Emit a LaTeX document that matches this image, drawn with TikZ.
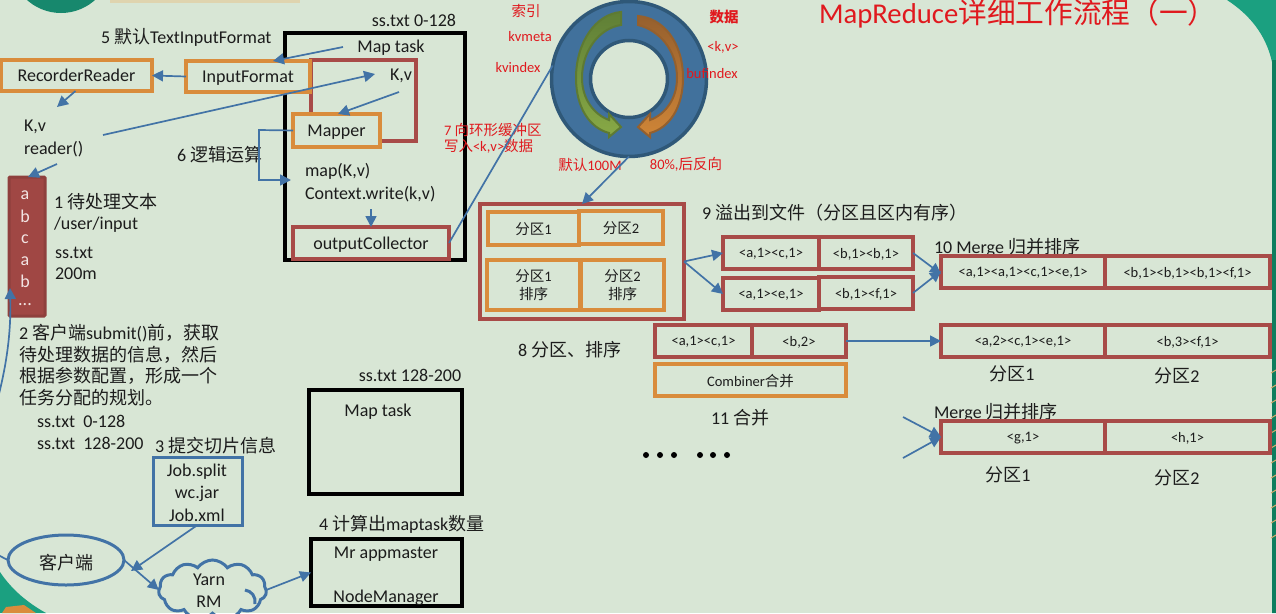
\documentclass[tikz,border=0pt]{standalone}
\usepackage{fontspec}
\setmainfont{Carlito}
\newfontfamily\cjk{Noto Sans CJK SC}
\usetikzlibrary{arrows.meta,shapes.symbols,shapes.geometric}
\definecolor{bg}{HTML}{D8E6D5}
\definecolor{bluel}{HTML}{4273A6}
\definecolor{ringf}{HTML}{41719C}
\definecolor{ringd}{HTML}{2F5878}
\definecolor{orangeb}{HTML}{D98C3C}
\definecolor{redb}{HTML}{A84B48}
\definecolor{redt}{HTML}{E0191E}
\definecolor{teal1}{HTML}{1BA080}
\definecolor{teald}{HTML}{0E7D5E}
\definecolor{txt}{HTML}{1C1C1C}
\newcommand\Z[1]{{\cjk #1}}
\newcommand\pbox[7]{% name, style, x1,y1,x2,y2, text
  \pgfmathsetmacro\pcx{(#3+#5)/2}\pgfmathsetmacro\pcy{(#4+#6)/2}
  \pgfmathsetmacro\pw{#5-#3}\pgfmathsetmacro\ph{#6-#4}
  \node[#2,minimum width=\pw pt,minimum height=\ph pt] (#1) at (\pcx,\pcy) {#7};}
\tikzset{
  x=1pt,y=-1pt,
  every node/.style={text=txt,inner sep=0pt,outer sep=0pt,font=\fontsize{18}{22}\selectfont},
  lbl/.style={anchor=west,yshift=-0.7pt},
  cl/.style={anchor=center,yshift=-0.7pt},
  redlbl/.style={text=redt,font=\fontsize{14.5}{17}\selectfont},
  sm/.style={font=\fontsize{14.5}{18}\selectfont,align=center},
  obox/.style={draw=orangeb,line width=3.5pt,fill=bg,align=center,text depth=0pt},
  rbox/.style={draw=redb,line width=3.5pt,fill=bg,align=center,text depth=0pt},
  kbox/.style={draw=black,line width=3.5pt,align=center},
  bbox/.style={draw=bluel,line width=3pt,fill=bg,align=center},
  arr/.style={draw=bluel,line width=1.7pt,-{Triangle[length=11pt,width=11pt]}},
  pln/.style={draw=bluel,line width=1.7pt},
}
\begin{document}
\begin{tikzpicture}
\useasboundingbox (0,0) rectangle (1276,613);
\clip (0,0) rectangle (1276,613);
\fill[bg] (0,0) rectangle (1276,613);
% corner decoration
\fill[teal1!85!black] (61,-38) circle (51);
\fill[orange!18!bg] (110,0) rectangle (300,3);
\fill[teal1] (1227,0) .. controls (1250,15) and (1266,35) .. (1272,62) -- (1272,613) -- (1276,613) -- (1276,0) -- cycle;
\fill[teald] (1272,60) rectangle (1276,613);
\foreach \yy in {370,385,...,535}{\draw[orangeb!70!bg,line width=1pt] (1271,\yy+3) -- (1276,\yy);}
\fill[teal1] (0,572) .. controls (12,590) and (28,603) .. (46,613) -- (0,613) -- cycle;
\fill[orangeb] (6,607) -- (24,605) -- (36,613) -- (2,613) -- cycle;
% title
\node[lbl,text=redt,font=\fontsize{28.7}{30}\selectfont] (title) at (819,13) {MapReduce\Z{详细工作流程（一）}};
% ---- map task 1
\pbox{mapbox}{kbox}{285}{33}{465}{260}{}
\node[cl] (range1) at (414,20) {ss.txt 0-128};
\node[lbl] (step5) at (101,37) {5 \Z{默认}TextInputFormat};
\node[cl] (maptask) at (391,47) {Map task};
\pbox{kvbox}{draw=redb,line width=3.5pt}{311}{60}{416}{141}{}
\pbox{recorder}{obox}{1}{60}{152}{91}{RecorderReader}
\pbox{inputformat}{obox}{186}{61}{310}{92}{InputFormat}
\pbox{mapper}{obox}{293}{114}{380}{147}{Mapper}
\node[cl] (kvr) at (401,75) {K,v};
\node[lbl] (kvl) at (24,126) {K,v};
\node[lbl] (reader) at (24,148) {reader()};
\node[lbl] (step6) at (177,154) {6 \Z{逻辑运算}};
\node[lbl] (mapkv) at (305,171) {map(K,v)};
\node[lbl] (ctx) at (305,193) {Context.write(k,v)};
\pbox{collector}{rbox}{293}{227}{449}{259}{outputCollector}
% ---- input file
\pbox{file}{draw=redb!85!black,line width=3pt,fill=redb!95!black,rounded corners=1pt}{9}{177}{45}{316}{}
\foreach \lt/\yy/\nn in {a/194/fa,b/216/fb,c/238/fc,a/260/fd,b/281/fe}{
  \node[cl,text=white!85!redb] (\nn) at (25,\yy) {\lt};}
\node[cl,text=white!85!redb] (ff) at (25,304) {...};
\node[lbl] (step1) at (54,201) {1 \Z{待处理文本}};
\node[lbl] (userin) at (54,224) {/user/input};
\node[lbl] (sstxt) at (55,252) {ss.txt};
\node[lbl] (size) at (55,273) {200m};
% ---- step 2
\node[lbl] (s2a) at (19,332) {2 \Z{客户端}submit()\Z{前，获取}};
\node[lbl] (s2b) at (19,354) {\Z{待处理数据的信息，然后}};
\node[lbl] (s2c) at (19,375) {\Z{根据参数配置，形成一个}};
\node[lbl] (s2d) at (19,397) {\Z{任务分配的规划。}};
\node[lbl] (sp1) at (37,421) {ss.txt\ \ 0-128};
\node[lbl] (sp2) at (37,443) {ss.txt\ \ 128-200};
\node[lbl] (step3) at (155,445) {3 \Z{提交切片信息}};
\pbox{job}{bbox}{153}{457}{242}{525}{}
\node[cl] (j1) at (197,471) {Job.split};
\node[cl] (j2) at (197,493) {wc.jar};
\node[cl] (j3) at (197,515) {Job.xml};
\node[ellipse,draw=bluel,line width=3pt,minimum width=116pt,minimum height=50pt] (client) at (66,560) {};
\node[cl] (clientt) at (66,562) {\Z{客户端}};
\node[cloud,cloud puffs=11,cloud puff arc=110,aspect=1.75,draw=bluel,line width=3pt,minimum width=108pt,minimum height=60pt] (cloud) at (212.5,590) {};
\draw[bluel,line width=3pt] (245,590) .. controls (252,591) and (256,597) .. (255,604);
\node[cl] (yarn) at (209,579) {Yarn};
\node[cl] (rm) at (209,601) {RM};
% ---- map task 2 and MR
\node[cl] (range2) at (410,375) {ss.txt 128-200};
\pbox{map2}{kbox}{309}{390}{462}{494}{}
\node[cl] (maptask2) at (378,411) {Map task};
\node[lbl] (step4) at (319,524) {4 \Z{计算出}maptask\Z{数量}};
\pbox{mr}{kbox}{311}{539}{462}{606}{}
\node[cl] (mra) at (386,553) {Mr appmaster};
\node[cl] (nm) at (386,597) {NodeManager};
% ---- ring
\node[circle,draw=ringd,line width=3.5pt,fill=ringf,minimum size=155pt] (ring) at (629,79) {};
\node[circle,draw=ringd,line width=3.5pt,fill=bg,minimum size=77pt] (hole) at (629,79) {};
\definecolor{gt}{HTML}{5F7F36}\definecolor{gb}{HTML}{88A946}\definecolor{gd}{HTML}{5E7A33}
\definecolor{ot}{HTML}{96602E}\definecolor{ob}{HTML}{CF8537}\definecolor{od}{HTML}{94602E}
\path[draw=gd,line width=2pt,top color=gt,bottom color=gb]
  (621,12) .. controls (596,14) and (576,42) .. (576,78) .. controls (576,108) and (590,128) .. (609,133) -- (609,137) -- (621,127) -- (609,114) -- (609,120) .. controls (595,115) and (582,100) .. (582,78) .. controls (582,50) and (600,28) .. (621,25) -- cycle;
\path[draw=od,line width=2pt,top color=ot,bottom color=ob]
  (638,16) .. controls (663,18) and (683,42) .. (683,78) .. controls (683,108) and (669,128) .. (650,133) -- (650,137) -- (638,127) -- (650,114) -- (650,120) .. controls (664,115) and (677,100) .. (677,78) .. controls (677,50) and (659,30) .. (638,25) -- cycle;
\node[cl,redlbl] (suoyin) at (526,10) {\Z{索引}};
\node[cl,redlbl] (kvmeta) at (530,36) {kvmeta};
\node[cl,redlbl] (kvindex) at (518,67) {kvindex};
\node[cl,redlbl,font=\fontsize{14.5}{17}\selectfont\bfseries] (shuju) at (724,16) {\Z{数据}};
\node[cl,redlbl] (kvv) at (723,47) {<k,v>};
\node[cl,redlbl] (bufindex) at (712,73) {bufindex};
\node[cl,redlbl] (m100) at (590,164) {\Z{默认}100M};
\node[cl,redlbl] (p80) at (686,164) {80\%,\Z{后反向}};
\node[lbl,redlbl] (s7a) at (444,129) {7 \Z{向环形缓冲区}};
\node[lbl,redlbl] (s7b) at (444,146) {\Z{写入}<k,v>\Z{数据}};
% ---- partitions
\pbox{big}{draw=redb,line width=3.5pt}{480}{204}{684}{319}{}
\pbox{p1}{obox,sm}{488}{212}{579}{245}{\Z{分区}1}
\pbox{p2}{obox,sm}{579}{211}{663}{244}{\Z{分区}2}
\pbox{p1s}{obox,sm}{487}{260}{580}{310}{\Z{分区}1\\\Z{排序}}
\pbox{p2s}{obox,sm}{581}{260}{664}{310}{\Z{分区}2\\\Z{排序}}
\node[lbl] (step9) at (702,212) {9 \Z{溢出到文件（分区且区内有序）}};
\node[lbl] (step8) at (518,349) {8 \Z{分区、排序}};
\pbox{s11}{rbox,sm}{723}{237}{819}{269}{<a,1><c,1>}
\pbox{s12}{rbox,sm}{819}{237}{913}{269}{<b,1><b,1>}
\pbox{s21}{rbox,sm}{723}{278}{819}{310}{<a,1><e,1>}
\pbox{s22}{rbox,sm}{819}{277}{913}{309}{<b,1><f,1>}
\node[lbl] (step10) at (934,247) {10 Merge \Z{归并排序}};
\pbox{m1}{rbox,sm}{941}{256}{1105}{288}{<a,1><a,1><c,1><e,1>}
\pbox{m2}{rbox,sm}{1105}{256}{1270}{288}{<b,1><b,1><b,1><f,1>}
\pbox{c1}{rbox,sm}{655}{325}{752}{357}{<a,1><c,1>}
\pbox{c2}{rbox,sm}{752}{325}{846}{357}{<b,2>}
\pbox{comb}{obox,sm}{655}{364}{846}{396}{Combiner\Z{合并}}
\node[lbl] (step11) at (711,417) {11 \Z{合并}};
\pbox{r1}{rbox,sm}{941}{325}{1105}{357}{<a,2><c,1><e,1>}
\pbox{r2}{rbox,sm}{1105}{325}{1270}{357}{<b,3><f,1>}
\node[cl] (r1l) at (1012,373) {\Z{分区}1};
\node[cl] (r2l) at (1177,375) {\Z{分区}2};
\node[lbl] (merge2) at (934,412) {Merge \Z{归并排序}};
\pbox{g1}{rbox,sm}{941}{421}{1105}{453}{<g,1>}
\pbox{g2}{rbox,sm}{1105}{421}{1270}{453}{<h,1>}
\node[cl] (g1l) at (1008,474) {\Z{分区}1};
\node[cl] (g2l) at (1177,477) {\Z{分区}2};
\foreach \xx in {646,660,674,700,713,727}{\fill[black] (\xx,455) circle (3);}
% ---- free ends
\coordinate (mtS) at (343,47);
\coordinate (kvTip) at (375,74);
\coordinate (rdS) at (103,135);
\coordinate (rrTip) at (57,107);
\coordinate (rd2) at (57,164);
\coordinate (kvS) at (399,92);
\coordinate (ctxS) at (371,209);
\coordinate (elb) at (291,180);
\coordinate (fileTip) at (10,288);
\coordinate (jobMeet) at (131,571);
\coordinate (g3a) at (903,417);
\coordinate (g3b) at (903,458);
% ---- connectors
\draw[arr] (mtS) -- ([xshift=25pt]inputformat.north);
\draw[arr] (inputformat.west) -- (recorder.east);
\draw[arr] ([xshift=-1pt]recorder.south) -- (rrTip);
\draw[arr] (rdS) -- (kvTip);
\draw[arr] (kvS) -- ([xshift=1.5pt]mapper.north);
\draw[arr] (mapper.west) -- (259,130) -- (259,180) -- (elb);
\draw[arr] (rd2) -- ([xshift=1pt]file.north);
\draw[arr] (ctxS) -- (collector.north -| ctxS);
\draw[pln] (collector.east) -- (ring.170);
\draw[arr] (ring.south) -- (big.north);
\draw[arr] (big.east) -- (s11.west);
\draw[arr] (big.east) -- (s21.west);
\draw[arr] (s12.east) -- ([yshift=-2pt]m1.west);
\draw[arr] (s22.east) -- ([yshift=1pt]m1.west);
\draw[arr] (c2.east) -- (r1.west);
\draw[arr] (g3a) -- (g1.west);
\draw[arr] (g3b) -- (g1.west);
\draw[arr] (job.south) -- (jobMeet);
\draw[arr] (client.east) -- (cloud.180);
\draw[arr] (cloud.east) -- (mr.west);
\draw[arr] (client.west) .. controls (-80,520) and (14,440) .. (fileTip);
\end{tikzpicture}
\end{document}
